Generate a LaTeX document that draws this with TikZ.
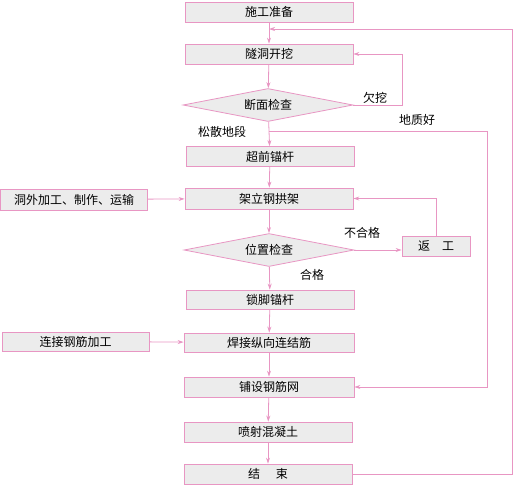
\documentclass[tikz,border=0pt]{standalone}
\usepackage{fontspec}
\setmainfont{Noto Sans CJK SC}
\usetikzlibrary{shapes.geometric,arrows.meta}
\definecolor{pinkline}{RGB}{232,150,195}
\definecolor{boxfill}{RGB}{236,236,236}
\begin{document}
\begin{tikzpicture}[x=1pt,y=-1pt,
  font=\fontsize{12pt}{14pt}\selectfont,
  stepbox/.style={draw=pinkline,line width=0.8pt,fill=boxfill,rectangle,inner sep=0pt,minimum width=168pt,minimum height=20pt},
  sidebox/.style={stepbox,minimum width=147pt},
  checkbox/.style={draw=pinkline,line width=0.8pt,fill=boxfill,diamond,inner sep=0pt,aspect=5,minimum width=170pt,minimum height=33pt},
  link/.style={draw=pinkline,line width=0.8pt},
  arr/.style={link,-{Stealth[length=6pt,width=4pt]}},
  lbl/.style={inner sep=0pt}
]
\useasboundingbox (0,0) rectangle (517,491);
\node[stepbox] (b1) at (269,12) {施工准备};
\node[stepbox] (b2) at (269,54) {隧洞开挖};
\node[checkbox] (d1) at (268,105) {断面检查};
\node[stepbox] (b3) at (270,156.5) {超前锚杆};
\node[stepbox,minimum height=21pt] (b4) at (269,198.5) {架立钢拱架};
\node[sidebox,minimum height=21pt] (s1) at (74,199.5) {洞外加工、制作、运输};
\node[checkbox] (d2) at (269,250) {位置检查};
\node[stepbox,minimum width=68pt] (rw) at (436,246) {返\hspace{1em}工};
\node[stepbox,minimum height=19pt] (b5) at (270,299.5) {锁脚锚杆};
\node[stepbox,minimum width=170pt,minimum height=19pt] (b6) at (269,342.5) {焊接纵向连结筋};
\node[sidebox,minimum height=19pt] (s2) at (75.5,341.5) {连接钢筋加工};
\node[stepbox,minimum width=170pt] (b7) at (269,387) {铺设钢筋网};
\node[stepbox] (b8) at (268,432) {喷射混凝土};
\node[stepbox] (b9) at (268,474) {结\hspace{1.3em}束};

\coordinate (top) at (269,29);
\coordinate (rt) at (512,474);
\coordinate (br) at (269,131);
\coordinate (gr) at (487,131);

\draw[arr] (b1) -- (b2);
\draw[arr] (b2) -- (d1);
\draw[arr] (d1.east) -- ++(49,0) |- (b2.east);
\draw[arr] (d1) -- (b3);
\draw[arr] (br) -- (gr) |- (b7.east);
\draw[arr] (b9.east) -- (rt) |- (top);
\draw[arr] (b3) -- (b4);
\draw[arr] (s1) -- (b4);
\draw[arr] (b4) -- (d2);
\draw[arr] (d2.east) -- (rw.west |- d2.east);
\draw[arr] (rw.north) |- (b4.east);
\draw[arr] (d2) -- (b5);
\draw[arr] (b5) -- (b6);
\draw[arr] (s2) -- (b6);
\draw[arr] (b6) -- (b7);
\draw[arr] (b7) -- (b8);
\draw[arr] (b8) -- (b9);

\node[lbl] (l1) at (375,98) {欠挖};
\node[lbl] (l2) at (417,120) {地质好};
\node[lbl] (l3) at (222,132) {松散地段};
\node[lbl] (l4) at (362,233) {不合格};
\node[lbl] (l5) at (312,275) {合格};
\end{tikzpicture}
\end{document}
